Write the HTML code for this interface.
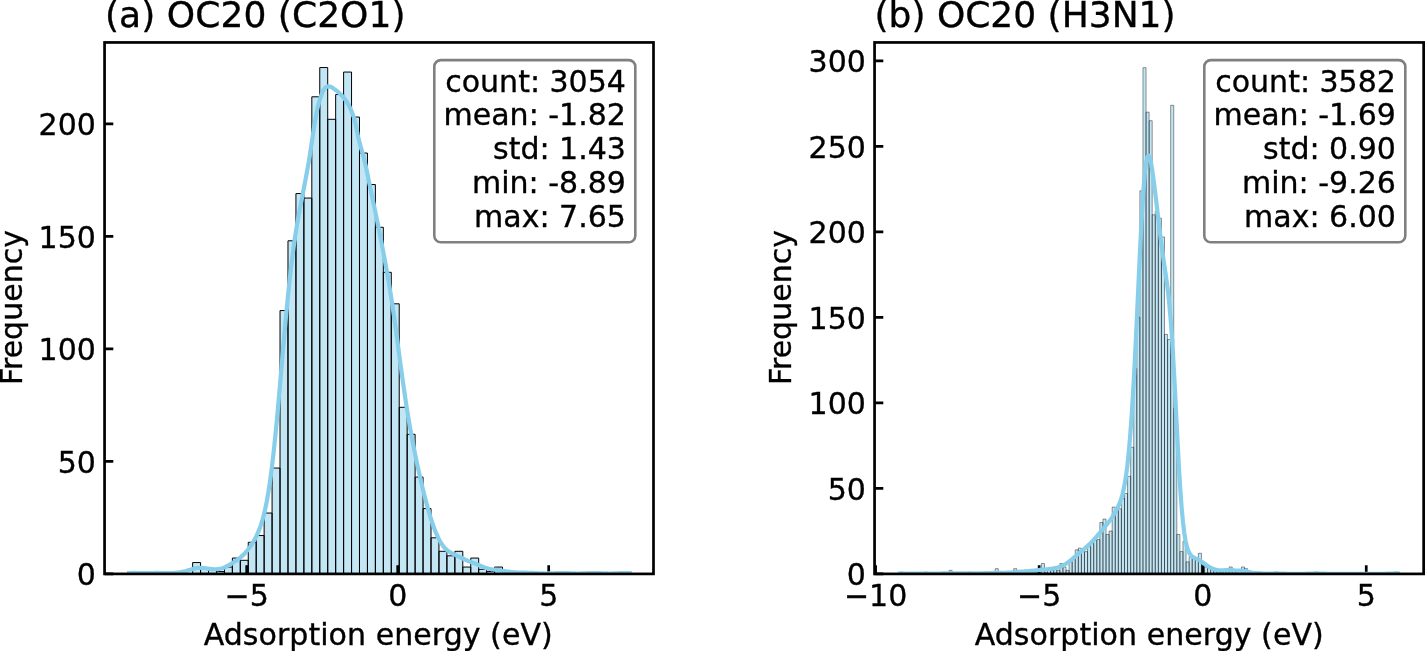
<!DOCTYPE html>
<html lang="en"><head><meta charset="utf-8"><title>OC20 adsorption energy histograms</title>
<style>html,body{margin:0;padding:0;background:#fff;overflow:hidden}svg{display:block}text{font-family:"DejaVu Sans","Liberation Sans",sans-serif;fill:#000;stroke:#000;stroke-width:0.35px}.t{font-size:30px}.ti{font-size:36px}</style></head><body>
<svg width="1425" height="651" viewBox="0 0 1425 651">
<rect width="1425" height="651" fill="#fff"/>
<clipPath id="cl"><rect x="104.56" y="42.45" width="548.94" height="531.45"/></clipPath>
<clipPath id="cr"><rect x="874.56" y="42.45" width="549.09" height="531.45"/></clipPath>
<g>
<g clip-path="url(#cl)">
<path d="M129.06 573.8V571.55H137.01V573.8ZM152.9 573.8V571.55H160.84V573.8ZM176.74 573.8V571.55H184.68V573.8ZM192.63 573.8V562.55H200.57V573.8ZM200.57 573.8V569.3H208.52V573.8ZM208.52 573.8V569.3H216.47V573.8ZM216.47 573.8V571.55H224.41V573.8ZM224.41 573.8V567.05H232.36V573.8ZM232.36 573.8V558.05H240.3V573.8ZM240.3 573.8V560.3H248.25V573.8ZM248.25 573.8V542.3H256.2V573.8ZM256.2 573.8V535.55H264.14V573.8ZM264.14 573.8V513.05H272.09V573.8ZM272.09 573.8V468.05H280.03V573.8ZM280.03 573.8V310.55H287.98V573.8ZM287.98 573.8V240.8H295.93V573.8ZM295.93 573.8V193.55H303.87V573.8ZM303.87 573.8V198.05H311.82V573.8ZM311.82 573.8V96.8H319.76V573.8ZM319.76 573.8V67.55H327.71V573.8ZM327.71 573.8V119.3H335.66V573.8ZM335.66 573.8V94.55H343.6V573.8ZM343.6 573.8V72.05H351.55V573.8ZM351.55 573.8V117.05H359.49V573.8ZM359.49 573.8V153.05H367.44V573.8ZM367.44 573.8V184.55H375.39V573.8ZM375.39 573.8V227.3H383.33V573.8ZM383.33 573.8V272.3H391.28V573.8ZM391.28 573.8V303.8H399.22V573.8ZM399.22 573.8V407.3H407.17V573.8ZM407.17 573.8V434.3H415.12V573.8ZM415.12 573.8V477.05H423.06V573.8ZM423.06 573.8V508.55H431.01V573.8ZM431.01 573.8V537.8H438.95V573.8ZM438.95 573.8V551.3H446.9V573.8ZM446.9 573.8V555.8H454.85V573.8ZM454.85 573.8V551.3H462.79V573.8ZM462.79 573.8V567.05H470.74V573.8ZM470.74 573.8V558.05H478.68V573.8ZM478.68 573.8V569.3H486.63V573.8ZM486.63 573.8V571.55H494.58V573.8ZM494.58 573.8V567.05H502.52V573.8ZM510.47 573.8V571.55H518.41V573.8ZM526.36 573.8V571.55H534.31V573.8ZM558.14 573.8V571.55H566.09V573.8ZM589.93 573.8V571.55H597.87V573.8ZM621.71 573.8V571.55H629.66V573.8Z" fill="#c3e6f5" stroke="#000" stroke-width="1.0" stroke-linejoin="miter"/>
</g>
<path d="M246.7 573.9v-8.75M397.7 573.9v-8.75M548.7 573.9v-8.75M104.56 573.8h8.75M104.56 461.3h8.75M104.56 348.8h8.75M104.56 236.3h8.75M104.56 123.8h8.75" stroke="#000" stroke-width="2.7" fill="none"/>
<g clip-path="url(#cl)">
<path d="M129.06 573.05 L130.06 573.02 L131.07 572.99 L132.07 572.97 L133.07 572.96 L134.08 572.96 L135.08 572.97 L136.08 572.98 L137.09 573 L138.09 573.03 L139.09 573.06 L140.1 573.08 L141.1 573.11 L142.1 573.13 L143.1 573.15 L144.11 573.16 L145.11 573.16 L146.11 573.15 L147.12 573.14 L148.12 573.12 L149.12 573.1 L150.13 573.07 L151.13 573.04 L152.13 573.02 L153.14 572.99 L154.14 572.97 L155.14 572.95 L156.15 572.94 L157.15 572.94 L158.15 572.95 L159.16 572.96 L160.16 572.98 L161.16 573 L162.17 573.03 L163.17 573.06 L164.17 573.08 L165.18 573.11 L166.18 573.13 L167.18 573.14 L168.18 573.14 L169.19 573.13 L170.19 573.11 L171.19 573.08 L172.2 573.04 L173.2 572.98 L174.2 572.92 L175.21 572.84 L176.21 572.74 L177.21 572.64 L178.22 572.52 L179.22 572.38 L180.22 572.23 L181.23 572.06 L182.23 571.87 L183.23 571.66 L184.24 571.43 L185.24 571.18 L186.24 570.92 L187.25 570.63 L188.25 570.33 L189.25 570.03 L190.26 569.72 L191.26 569.41 L192.26 569.12 L193.26 568.84 L194.27 568.59 L195.27 568.36 L196.27 568.18 L197.28 568.03 L198.28 567.93 L199.28 567.86 L200.29 567.84 L201.29 567.86 L202.29 567.91 L203.3 568 L204.3 568.11 L205.3 568.23 L206.31 568.38 L207.31 568.52 L208.31 568.67 L209.32 568.81 L210.32 568.94 L211.32 569.06 L212.33 569.15 L213.33 569.22 L214.33 569.26 L215.34 569.26 L216.34 569.24 L217.34 569.17 L218.35 569.05 L219.35 568.9 L220.35 568.69 L221.35 568.44 L222.36 568.14 L223.36 567.8 L224.36 567.41 L225.37 566.97 L226.37 566.5 L227.37 566 L228.38 565.46 L229.38 564.9 L230.38 564.31 L231.39 563.71 L232.39 563.08 L233.39 562.45 L234.4 561.79 L235.4 561.13 L236.4 560.44 L237.41 559.73 L238.41 558.99 L239.41 558.23 L240.42 557.42 L241.42 556.57 L242.42 555.67 L243.43 554.72 L244.43 553.71 L245.43 552.64 L246.43 551.5 L247.44 550.29 L248.44 549.02 L249.44 547.68 L250.45 546.27 L251.45 544.78 L252.45 543.2 L253.46 541.54 L254.46 539.78 L255.46 537.91 L256.47 535.91 L257.47 533.75 L258.47 531.43 L259.48 528.9 L260.48 526.15 L261.48 523.13 L262.49 519.81 L263.49 516.16 L264.49 512.12 L265.5 507.67 L266.5 502.77 L267.5 497.37 L268.51 491.44 L269.51 484.95 L270.51 477.88 L271.51 470.23 L272.52 461.98 L273.52 453.15 L274.52 443.75 L275.53 433.83 L276.53 423.43 L277.53 412.63 L278.54 401.48 L279.54 390.06 L280.54 378.47 L281.55 366.8 L282.55 355.15 L283.55 343.59 L284.56 332.22 L285.56 321.11 L286.56 310.33 L287.57 299.94 L288.57 289.99 L289.57 280.49 L290.58 271.49 L291.58 262.98 L292.58 254.96 L293.59 247.42 L294.59 240.33 L295.59 233.67 L296.59 227.38 L297.6 221.42 L298.6 215.75 L299.6 210.29 L300.61 205 L301.61 199.8 L302.61 194.66 L303.62 189.51 L304.62 184.32 L305.62 179.05 L306.63 173.68 L307.63 168.23 L308.63 162.58 L309.64 156.4 L310.64 149.88 L311.64 143.16 L312.65 136.42 L313.65 129.8 L314.65 123.48 L315.66 117.53 L316.66 111.97 L317.66 107.37 L318.67 103.44 L319.67 100 L320.67 96.96 L321.67 94.23 L322.68 91.74 L323.68 89.86 L324.68 88.41 L325.69 87.49 L326.69 86.83 L327.69 86.39 L328.7 86.32 L329.7 86.52 L330.7 86.86 L331.71 87.28 L332.71 87.93 L333.71 88.67 L334.72 89.38 L335.72 90.13 L336.72 90.92 L337.73 91.74 L338.73 92.61 L339.73 93.52 L340.74 94.48 L341.74 95.49 L342.74 96.59 L343.75 97.8 L344.75 99.09 L345.75 100.45 L346.75 101.87 L347.76 103.43 L348.76 105.21 L349.76 107.26 L350.77 109.46 L351.77 111.85 L352.77 114.44 L353.78 117.2 L354.78 120.43 L355.78 124.74 L356.79 129.95 L357.79 135.18 L358.79 139.64 L359.8 143.53 L360.8 147.14 L361.8 150.62 L362.81 154.14 L363.81 157.84 L364.81 161.89 L365.82 166.31 L366.82 170.99 L367.82 175.86 L368.83 180.83 L369.83 185.8 L370.83 190.7 L371.83 195.45 L372.84 200.11 L373.84 204.84 L374.84 209.62 L375.85 214.45 L376.85 219.34 L377.85 224.27 L378.86 229.25 L379.86 234.29 L380.86 239.39 L381.87 244.55 L382.87 249.78 L383.87 255.09 L384.88 260.49 L385.88 265.99 L386.88 271.6 L387.89 277.35 L388.89 283.23 L389.89 289.26 L390.9 295.44 L391.9 301.87 L392.9 308.59 L393.91 315.62 L394.91 322.78 L395.91 330.08 L396.92 337.47 L397.92 344.94 L398.92 352.43 L399.92 359.92 L400.93 367.35 L401.93 374.69 L402.93 381.9 L403.94 388.96 L404.94 395.83 L405.94 402.51 L406.95 408.97 L407.95 415.21 L408.95 421.25 L409.96 427.07 L410.96 432.7 L411.96 438.15 L412.97 443.44 L413.97 448.57 L414.97 453.56 L415.98 458.43 L416.98 463.18 L417.98 467.83 L418.99 472.38 L419.99 476.83 L420.99 481.19 L422 485.45 L423 489.62 L424 493.68 L425 497.65 L426.01 501.5 L427.01 505.24 L428.01 508.87 L429.02 512.37 L430.02 515.74 L431.02 518.97 L432.03 522.06 L433.03 525.01 L434.03 527.8 L435.04 530.44 L436.04 532.92 L437.04 535.24 L438.05 537.4 L439.05 539.4 L440.05 541.24 L441.06 542.93 L442.06 544.47 L443.06 545.86 L444.07 547.11 L445.07 548.24 L446.07 549.24 L447.08 550.14 L448.08 550.94 L449.08 551.66 L450.08 552.3 L451.09 552.89 L452.09 553.43 L453.09 553.94 L454.1 554.43 L455.1 554.9 L456.1 555.37 L457.11 555.84 L458.11 556.31 L459.11 556.79 L460.12 557.28 L461.12 557.76 L462.12 558.25 L463.13 558.73 L464.13 559.21 L465.13 559.67 L466.14 560.11 L467.14 560.54 L468.14 560.95 L469.15 561.35 L470.15 561.73 L471.15 562.11 L472.16 562.48 L473.16 562.85 L474.16 563.23 L475.16 563.61 L476.17 564.01 L477.17 564.41 L478.17 564.83 L479.18 565.25 L480.18 565.68 L481.18 566.1 L482.19 566.52 L483.19 566.93 L484.19 567.31 L485.2 567.68 L486.2 568.01 L487.2 568.32 L488.21 568.59 L489.21 568.83 L490.21 569.04 L491.22 569.22 L492.22 569.39 L493.22 569.53 L494.23 569.66 L495.23 569.78 L496.23 569.91 L497.24 570.03 L498.24 570.16 L499.24 570.29 L500.24 570.43 L501.25 570.58 L502.25 570.74 L503.25 570.9 L504.26 571.06 L505.26 571.22 L506.26 571.38 L507.27 571.54 L508.27 571.68 L509.27 571.82 L510.28 571.95 L511.28 572.06 L512.28 572.16 L513.29 572.25 L514.29 572.33 L515.29 572.4 L516.3 572.46 L517.3 572.51 L518.3 572.55 L519.31 572.59 L520.31 572.62 L521.31 572.64 L522.32 572.66 L523.32 572.68 L524.32 572.69 L525.32 572.71 L526.33 572.72 L527.33 572.74 L528.33 572.76 L529.34 572.79 L530.34 572.82 L531.34 572.86 L532.35 572.9 L533.35 572.95 L534.35 573 L535.36 573.05 L536.36 573.11 L537.36 573.17 L538.37 573.23 L539.37 573.28 L540.37 573.33 L541.38 573.38 L542.38 573.42 L543.38 573.45 L544.39 573.47 L545.39 573.49 L546.39 573.49 L547.4 573.49 L548.4 573.47 L549.4 573.45 L550.41 573.41 L551.41 573.37 L552.41 573.33 L553.41 573.28 L554.42 573.23 L555.42 573.18 L556.42 573.13 L557.43 573.08 L558.43 573.04 L559.43 573.01 L560.44 572.99 L561.44 572.98 L562.44 572.98 L563.45 572.98 L564.45 573 L565.45 573.03 L566.46 573.07 L567.46 573.11 L568.46 573.16 L569.47 573.21 L570.47 573.26 L571.47 573.31 L572.48 573.36 L573.48 573.4 L574.48 573.44 L575.49 573.46 L576.49 573.48 L577.49 573.49 L578.49 573.49 L579.5 573.48 L580.5 573.46 L581.5 573.44 L582.51 573.4 L583.51 573.36 L584.51 573.31 L585.52 573.26 L586.52 573.21 L587.52 573.16 L588.53 573.11 L589.53 573.07 L590.53 573.03 L591.54 573 L592.54 572.99 L593.54 572.98 L594.55 572.98 L595.55 572.99 L596.55 573.01 L597.56 573.04 L598.56 573.08 L599.56 573.13 L600.57 573.18 L601.57 573.23 L602.57 573.28 L603.57 573.33 L604.58 573.37 L605.58 573.41 L606.58 573.44 L607.59 573.47 L608.59 573.49 L609.59 573.49 L610.6 573.49 L611.6 573.48 L612.6 573.46 L613.61 573.43 L614.61 573.39 L615.61 573.34 L616.62 573.3 L617.62 573.25 L618.62 573.2 L619.63 573.15 L620.63 573.1 L621.63 573.06 L622.64 573.02 L623.64 573 L624.64 572.98 L625.65 572.98 L626.65 572.98 L627.65 573 L628.65 573.02 L629.66 573.06" fill="none" stroke="#87ceeb" stroke-width="4.2" stroke-linecap="square" stroke-linejoin="round"/>
</g>
<rect x="104.56" y="42.45" width="548.94" height="531.45" fill="none" stroke="#000" stroke-width="2.7" stroke-linejoin="miter"/>
<text class="t" x="246.7" y="605.5" text-anchor="middle">−5</text>
<text class="t" x="397.7" y="605.5" text-anchor="middle">0</text>
<text class="t" x="548.7" y="605.5" text-anchor="middle">5</text>
<text class="t" x="95.86" y="585.1" text-anchor="end">0</text>
<text class="t" x="95.86" y="472.6" text-anchor="end">50</text>
<text class="t" x="95.86" y="360.1" text-anchor="end">100</text>
<text class="t" x="95.86" y="247.6" text-anchor="end">150</text>
<text class="t" x="95.86" y="135.1" text-anchor="end">200</text>
<text class="ti" x="105" y="26.8" textLength="300.5" lengthAdjust="spacing">(a) OC20 (C2O1)</text>
<text class="t" x="378.2" y="645.3" text-anchor="middle" textLength="349" lengthAdjust="spacing">Adsorption energy (eV)</text>
<text class="t" transform="translate(21.8 307.6) rotate(-90)" text-anchor="middle">Frequency</text>
<rect x="434.3" y="60.1" width="201" height="182.1" rx="6.5" ry="6.5" fill="#fff" stroke="#808080" stroke-width="2.6"/>
<text class="t" x="625.9" y="91.55" text-anchor="end">count: 3054</text>
<text class="t" x="625.9" y="125.45" text-anchor="end">mean: -1.82</text>
<text class="t" x="625.9" y="159.35" text-anchor="end">std: 1.43</text>
<text class="t" x="625.9" y="193.25" text-anchor="end">min: -8.89</text>
<text class="t" x="625.9" y="227.15" text-anchor="end">max: 7.65</text>
</g>
<g>
<g clip-path="url(#cr)">
<path d="M899.8 573.8V572.09H902.88V573.8ZM924.42 573.8V572.09H927.5V573.8ZM949.05 573.8V570.38H952.13V573.8ZM967.52 573.8V572.09H970.59V573.8ZM982.91 573.8V572.09H985.98V573.8ZM995.22 573.8V568.67H998.3V573.8ZM1013.69 573.8V568.67H1016.76V573.8ZM1016.76 573.8V572.09H1019.84V573.8ZM1019.84 573.8V572.09H1022.92V573.8ZM1022.92 573.8V572.09H1026V573.8ZM1026 573.8V570.38H1029.08V573.8ZM1029.08 573.8V572.09H1032.15V573.8ZM1032.15 573.8V570.38H1035.23V573.8ZM1035.23 573.8V572.09H1038.31V573.8ZM1038.31 573.8V570.38H1041.39V573.8ZM1041.39 573.8V563.54H1044.47V573.8ZM1044.47 573.8V572.09H1047.54V573.8ZM1047.54 573.8V570.38H1050.62V573.8ZM1050.62 573.8V570.38H1053.7V573.8ZM1053.7 573.8V566.96H1056.78V573.8ZM1056.78 573.8V570.38H1059.86V573.8ZM1059.86 573.8V563.54H1062.93V573.8ZM1062.93 573.8V566.96H1066.01V573.8ZM1066.01 573.8V570.38H1069.09V573.8ZM1069.09 573.8V561.83H1072.17V573.8ZM1072.17 573.8V558.41H1075.25V573.8ZM1075.25 573.8V549.86H1078.32V573.8ZM1078.32 573.8V548.15H1081.4V573.8ZM1081.4 573.8V551.57H1084.48V573.8ZM1084.48 573.8V551.57H1087.56V573.8ZM1087.56 573.8V546.44H1090.64V573.8ZM1090.64 573.8V543.02H1093.71V573.8ZM1093.71 573.8V539.6H1096.79V573.8ZM1096.79 573.8V539.6H1099.87V573.8ZM1099.87 573.8V522.51H1102.95V573.8ZM1102.95 573.8V519.09H1106.03V573.8ZM1106.03 573.8V534.47H1109.1V573.8ZM1109.1 573.8V531.05H1112.18V573.8ZM1112.18 573.8V507.12H1115.26V573.8ZM1115.26 573.8V510.54H1118.34V573.8ZM1118.34 573.8V508.83H1121.42V573.8ZM1121.42 573.8V498.57H1124.49V573.8ZM1124.49 573.8V493.44H1127.57V573.8ZM1127.57 573.8V476.34H1130.65V573.8ZM1130.65 573.8V447.27H1133.73V573.8ZM1133.73 573.8V368.62H1136.81V573.8ZM1136.81 573.8V317.33H1139.88V573.8ZM1139.88 573.8V190.8H1142.96V573.8ZM1142.96 573.8V67.7H1146.04V573.8ZM1146.04 573.8V112.15H1149.12V573.8ZM1149.12 573.8V120.7H1152.2V573.8ZM1152.2 573.8V214.74H1155.27V573.8ZM1155.27 573.8V211.32H1158.35V573.8ZM1158.35 573.8V218.16H1161.43V573.8ZM1161.43 573.8V236.97H1164.51V573.8ZM1164.51 573.8V334.43H1167.59V573.8ZM1167.59 573.8V339.56H1170.66V573.8ZM1170.66 573.8V105.31H1173.74V573.8ZM1173.74 573.8V407.95H1176.82V573.8ZM1176.82 573.8V534.47H1179.9V573.8ZM1179.9 573.8V551.57H1182.98V573.8ZM1182.98 573.8V541.31H1186.05V573.8ZM1186.05 573.8V561.83H1189.13V573.8ZM1189.13 573.8V556.7H1192.21V573.8ZM1192.21 573.8V558.41H1195.29V573.8ZM1195.29 573.8V560.12H1198.37V573.8ZM1198.37 573.8V553.28H1201.44V573.8ZM1201.44 573.8V563.54H1204.52V573.8ZM1204.52 573.8V566.96H1207.6V573.8ZM1207.6 573.8V566.96H1210.68V573.8ZM1210.68 573.8V568.67H1213.76V573.8ZM1213.76 573.8V570.38H1216.83V573.8ZM1216.83 573.8V570.38H1219.91V573.8ZM1219.91 573.8V572.09H1222.99V573.8ZM1222.99 573.8V570.38H1226.07V573.8ZM1226.07 573.8V570.38H1229.15V573.8ZM1229.15 573.8V566.96H1232.22V573.8ZM1232.22 573.8V570.38H1235.3V573.8ZM1235.3 573.8V572.09H1238.38V573.8ZM1241.46 573.8V566.96H1244.54V573.8ZM1244.54 573.8V568.67H1247.61V573.8ZM1256.85 573.8V572.09H1259.93V573.8ZM1275.32 573.8V572.09H1278.39V573.8ZM1315.33 573.8V572.09H1318.41V573.8ZM1395.36 573.8V572.09H1398.44V573.8Z" fill="#c3e6f5" stroke="#000" stroke-width="0.42" stroke-linejoin="miter"/>
</g>
<path d="M875.6 573.9v-8.75M1039.15 573.9v-8.75M1202.7 573.9v-8.75M1366.25 573.9v-8.75M874.56 573.8h8.75M874.56 488.31h8.75M874.56 402.82h8.75M874.56 317.33h8.75M874.56 231.84h8.75M874.56 146.35h8.75M874.56 60.86h8.75" stroke="#000" stroke-width="2.7" fill="none"/>
<g clip-path="url(#cr)">
<path d="M899.8 573.56 L901.05 573.55 L902.3 573.55 L903.55 573.56 L904.8 573.56 L906.05 573.57 L907.3 573.58 L908.55 573.6 L909.8 573.61 L911.05 573.62 L912.3 573.62 L913.55 573.62 L914.8 573.62 L916.05 573.62 L917.3 573.61 L918.55 573.6 L919.8 573.59 L921.05 573.57 L922.29 573.56 L923.54 573.55 L924.79 573.55 L926.04 573.54 L927.29 573.54 L928.54 573.55 L929.79 573.55 L931.04 573.56 L932.29 573.56 L933.54 573.57 L934.79 573.57 L936.04 573.56 L937.29 573.55 L938.54 573.53 L939.79 573.51 L941.04 573.48 L942.29 573.45 L943.54 573.42 L944.79 573.38 L946.04 573.35 L947.29 573.32 L948.54 573.3 L949.79 573.29 L951.04 573.28 L952.29 573.28 L953.54 573.29 L954.79 573.3 L956.04 573.32 L957.29 573.34 L958.54 573.36 L959.79 573.38 L961.04 573.4 L962.29 573.42 L963.54 573.43 L964.79 573.44 L966.03 573.45 L967.28 573.45 L968.53 573.45 L969.78 573.45 L971.03 573.45 L972.28 573.45 L973.53 573.44 L974.78 573.44 L976.03 573.43 L977.28 573.41 L978.53 573.39 L979.78 573.37 L981.03 573.34 L982.28 573.31 L983.53 573.27 L984.78 573.23 L986.03 573.19 L987.28 573.14 L988.53 573.09 L989.78 573.05 L991.03 573.01 L992.28 572.97 L993.53 572.94 L994.78 572.91 L996.03 572.9 L997.28 572.88 L998.53 572.88 L999.78 572.87 L1001.03 572.87 L1002.28 572.86 L1003.53 572.84 L1004.78 572.81 L1006.03 572.78 L1007.28 572.72 L1008.53 572.66 L1009.77 572.58 L1011.02 572.49 L1012.27 572.39 L1013.52 572.28 L1014.77 572.18 L1016.02 572.07 L1017.27 571.97 L1018.52 571.87 L1019.77 571.77 L1021.02 571.68 L1022.27 571.6 L1023.52 571.51 L1024.77 571.42 L1026.02 571.33 L1027.27 571.24 L1028.52 571.14 L1029.77 571.03 L1031.02 570.91 L1032.27 570.78 L1033.52 570.65 L1034.77 570.51 L1036.02 570.37 L1037.27 570.23 L1038.52 570.09 L1039.77 569.96 L1041.02 569.83 L1042.27 569.71 L1043.52 569.59 L1044.77 569.47 L1046.02 569.35 L1047.27 569.23 L1048.52 569.1 L1049.77 568.96 L1051.02 568.8 L1052.27 568.62 L1053.51 568.41 L1054.76 568.16 L1056.01 567.88 L1057.26 567.56 L1058.51 567.19 L1059.76 566.77 L1061.01 566.29 L1062.26 565.75 L1063.51 565.14 L1064.76 564.45 L1066.01 563.7 L1067.26 562.88 L1068.51 561.99 L1069.76 561.04 L1071.01 560.04 L1072.26 559.01 L1073.51 557.95 L1074.76 556.88 L1076.01 555.8 L1077.26 554.73 L1078.51 553.67 L1079.76 552.63 L1081.01 551.59 L1082.26 550.56 L1083.51 549.53 L1084.76 548.49 L1086.01 547.42 L1087.26 546.32 L1088.51 545.17 L1089.76 543.98 L1091.01 542.74 L1092.26 541.45 L1093.51 540.11 L1094.76 538.73 L1096.01 537.33 L1097.25 535.89 L1098.5 534.44 L1099.75 532.97 L1101 531.49 L1102.25 530 L1103.5 528.48 L1104.75 526.95 L1106 525.41 L1107.25 523.86 L1108.5 522.3 L1109.75 520.67 L1111 518.94 L1112.25 517.07 L1113.5 515.06 L1114.75 512.91 L1116 510.64 L1117.25 508.25 L1118.5 505.68 L1119.75 502.82 L1121 499.44 L1122.25 495.24 L1123.5 490.05 L1124.75 483.71 L1126 475.92 L1127.25 466.41 L1128.5 454.9 L1129.75 441.16 L1131 425.01 L1132.25 406.36 L1133.5 385.27 L1134.75 361.93 L1136 336.71 L1137.25 310.2 L1138.5 283.16 L1139.75 256.53 L1140.99 231.34 L1142.24 208.62 L1143.49 189.28 L1144.74 174.05 L1145.99 163.33 L1147.24 157.22 L1148.49 155.44 L1149.74 157.48 L1150.99 162.61 L1152.24 170.06 L1153.49 179.06 L1154.74 188.98 L1155.99 199.33 L1157.23 209.78 L1158.45 220.11 L1159.66 230.17 L1160.86 239.86 L1162.06 249.08 L1163.25 257.78 L1164.45 266.06 L1165.65 274.17 L1166.85 282.62 L1168.06 292.1 L1169.26 303.41 L1170.49 317.28 L1171.74 334.17 L1172.99 354.14 L1174.24 376.73 L1175.49 401.06 L1176.74 425.96 L1177.99 450.16 L1179.24 472.54 L1180.49 492.25 L1181.74 508.84 L1182.99 522.22 L1184.23 532.6 L1185.48 540.37 L1186.73 546.01 L1187.98 550.02 L1189.23 552.82 L1190.48 554.75 L1191.73 556.08 L1192.98 557.03 L1194.23 557.75 L1195.48 558.35 L1196.73 558.91 L1197.98 559.51 L1199.23 560.17 L1200.48 560.92 L1201.73 561.75 L1202.98 562.64 L1204.23 563.56 L1205.48 564.48 L1206.73 565.37 L1207.98 566.19 L1209.23 566.95 L1210.48 567.63 L1211.73 568.23 L1212.98 568.75 L1214.23 569.2 L1215.48 569.57 L1216.73 569.87 L1217.98 570.1 L1219.23 570.26 L1220.48 570.34 L1221.73 570.36 L1222.98 570.33 L1224.23 570.26 L1225.48 570.18 L1226.73 570.11 L1227.97 570.06 L1229.22 570.05 L1230.47 570.09 L1231.72 570.16 L1232.97 570.27 L1234.22 570.39 L1235.47 570.5 L1236.72 570.59 L1237.97 570.65 L1239.22 570.68 L1240.47 570.71 L1241.72 570.75 L1242.97 570.83 L1244.22 570.97 L1245.47 571.16 L1246.72 571.41 L1247.97 571.7 L1249.22 572 L1250.47 572.29 L1251.72 572.56 L1252.97 572.78 L1254.22 572.96 L1255.47 573.1 L1256.72 573.21 L1257.97 573.29 L1259.22 573.35 L1260.47 573.41 L1261.72 573.47 L1262.97 573.52 L1264.22 573.56 L1265.47 573.58 L1266.72 573.6 L1267.97 573.6 L1269.22 573.58 L1270.47 573.55 L1271.71 573.52 L1272.96 573.48 L1274.21 573.45 L1275.46 573.43 L1276.71 573.43 L1277.96 573.45 L1279.21 573.48 L1280.46 573.52 L1281.71 573.56 L1282.96 573.61 L1284.21 573.66 L1285.46 573.7 L1286.71 573.73 L1287.96 573.75 L1289.21 573.77 L1290.46 573.78 L1291.71 573.79 L1292.96 573.79 L1294.21 573.8 L1295.46 573.8 L1296.71 573.8 L1297.96 573.8 L1299.21 573.8 L1300.46 573.79 L1301.71 573.79 L1302.96 573.78 L1304.21 573.76 L1305.46 573.74 L1306.71 573.71 L1307.96 573.68 L1309.21 573.63 L1310.46 573.58 L1311.71 573.54 L1312.96 573.49 L1314.21 573.46 L1315.45 573.44 L1316.7 573.43 L1317.95 573.45 L1319.2 573.48 L1320.45 573.52 L1321.7 573.56 L1322.95 573.61 L1324.2 573.66 L1325.45 573.7 L1326.7 573.73 L1327.95 573.75 L1329.2 573.77 L1330.45 573.78 L1331.7 573.79 L1332.95 573.79 L1334.2 573.8 L1335.45 573.8 L1336.7 573.8 L1337.95 573.8 L1339.2 573.8 L1340.45 573.8 L1341.7 573.8 L1342.95 573.8 L1344.2 573.8 L1345.45 573.8 L1346.7 573.8 L1347.95 573.8 L1349.2 573.8 L1350.45 573.8 L1351.7 573.8 L1352.95 573.8 L1354.2 573.8 L1355.45 573.8 L1356.7 573.8 L1357.95 573.8 L1359.19 573.8 L1360.44 573.8 L1361.69 573.8 L1362.94 573.8 L1364.19 573.8 L1365.44 573.8 L1366.69 573.8 L1367.94 573.8 L1369.19 573.8 L1370.44 573.8 L1371.69 573.8 L1372.94 573.8 L1374.19 573.8 L1375.44 573.8 L1376.69 573.8 L1377.94 573.8 L1379.19 573.8 L1380.44 573.79 L1381.69 573.79 L1382.94 573.78 L1384.19 573.76 L1385.44 573.74 L1386.69 573.71 L1387.94 573.68 L1389.19 573.63 L1390.44 573.59 L1391.69 573.54 L1392.94 573.49 L1394.19 573.46 L1395.44 573.44 L1396.69 573.43 L1397.94 573.45" fill="none" stroke="#87ceeb" stroke-width="4.2" stroke-linecap="square" stroke-linejoin="round"/>
</g>
<rect x="874.56" y="42.45" width="549.09" height="531.45" fill="none" stroke="#000" stroke-width="2.7" stroke-linejoin="miter"/>
<text class="t" x="875.6" y="605.5" text-anchor="middle">−10</text>
<text class="t" x="1039.15" y="605.5" text-anchor="middle">−5</text>
<text class="t" x="1202.7" y="605.5" text-anchor="middle">0</text>
<text class="t" x="1366.25" y="605.5" text-anchor="middle">5</text>
<text class="t" x="865.86" y="585.1" text-anchor="end">0</text>
<text class="t" x="865.86" y="499.61" text-anchor="end">50</text>
<text class="t" x="865.86" y="414.12" text-anchor="end">100</text>
<text class="t" x="865.86" y="328.63" text-anchor="end">150</text>
<text class="t" x="865.86" y="243.14" text-anchor="end">200</text>
<text class="t" x="865.86" y="157.65" text-anchor="end">250</text>
<text class="t" x="865.86" y="72.16" text-anchor="end">300</text>
<text class="ti" x="874.5" y="26.8">(b) OC20 (H3N1)</text>
<text class="t" x="1149.2" y="645.3" text-anchor="middle" textLength="349" lengthAdjust="spacing">Adsorption energy (eV)</text>
<text class="t" transform="translate(791.3 307.6) rotate(-90)" text-anchor="middle">Frequency</text>
<rect x="1204.3" y="60.1" width="201" height="182.1" rx="6.5" ry="6.5" fill="#fff" stroke="#808080" stroke-width="2.6"/>
<text class="t" x="1395.9" y="91.55" text-anchor="end">count: 3582</text>
<text class="t" x="1395.9" y="125.45" text-anchor="end">mean: -1.69</text>
<text class="t" x="1395.9" y="159.35" text-anchor="end">std: 0.90</text>
<text class="t" x="1395.9" y="193.25" text-anchor="end">min: -9.26</text>
<text class="t" x="1395.9" y="227.15" text-anchor="end">max: 6.00</text>
</g>
</svg></body></html>
